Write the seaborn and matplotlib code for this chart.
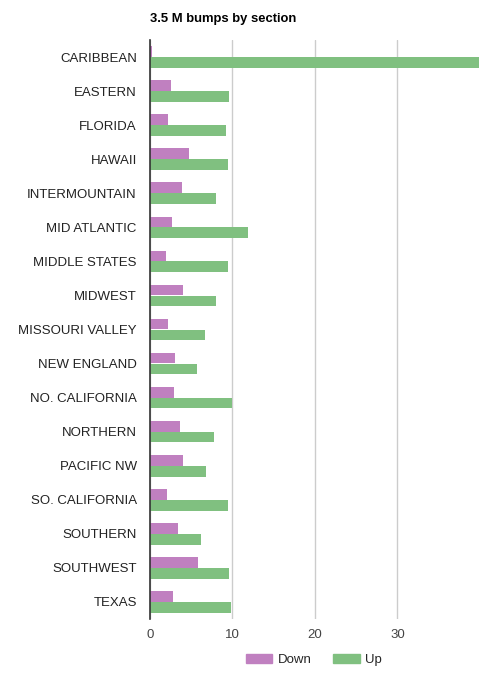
import matplotlib
matplotlib.use("Agg")
import matplotlib.pyplot as plt
import seaborn as sns
import pandas as pd

sections = ["CARIBBEAN", "EASTERN", "FLORIDA", "HAWAII", "INTERMOUNTAIN", "MID ATLANTIC",
            "MIDDLE STATES", "MIDWEST", "MISSOURI VALLEY", "NEW ENGLAND", "NO. CALIFORNIA",
            "NORTHERN", "PACIFIC NW", "SO. CALIFORNIA", "SOUTHERN", "SOUTHWEST", "TEXAS"]
down = [0.29, 2.49, 2.24, 4.69, 3.84, 2.61, 2.0, 3.96, 2.24, 2.98, 2.86, 3.59, 3.96, 2.12, 3.35, 5.8, 2.73]
up = [39.9, 9.59, 9.22, 9.47, 8.0, 11.92, 9.47, 8.0, 6.65, 5.67, 10.0, 7.76, 6.78, 9.47, 6.16, 9.59, 9.84]
series = ["Down", "Up"]
colors = ["#c080c0", "#80c080"]

df = pd.DataFrame({
    "section": sections * 2,
    "value": down + up,
    "series": [series[0]] * len(sections) + [series[1]] * len(sections),
})

sns.set_theme(style="white")
plt.rcParams["font.family"] = ["Liberation Sans", "DejaVu Sans"]

fig = plt.figure(figsize=(4.8, 6.8), dpi=100)
ax = fig.add_axes([150 / 480, 1 - 619 / 680, 329 / 480, 579 / 680])

sns.barplot(data=df, y="section", x="value", hue="series", palette=colors,
            order=sections, hue_order=series, width=0.64, gap=0.02,
            saturation=1, linewidth=0, ax=ax, orient="h", legend=True)

ax.set_xlim(0, 39.9)
ax.set_xticks([0, 10, 20, 30])
ax.set_xlabel("")
ax.set_ylabel("")
ax.xaxis.grid(True, color="#cccccc", linewidth=1)
ax.set_axisbelow(True)
for s in ["top", "right", "bottom"]:
    ax.spines[s].set_visible(False)
ax.spines["left"].set_color("#333333")
ax.spines["left"].set_linewidth(1.2)
ax.tick_params(axis="y", length=0, pad=9.5, labelsize=9.5, labelcolor="#222222")
ax.tick_params(axis="x", length=0, pad=7, labelsize=9.5, labelcolor="#444444")

fig.text(150 / 480, 1 - 19 / 680, "3.5 M bumps by section", fontsize=9.4,
         fontweight="bold", va="center", ha="left", color="#000000")

ax.legend_.remove()
handles = [plt.Rectangle((0, 0), 1, 1, color=c) for c in colors]
fig.legend(handles, series, loc="center", bbox_to_anchor=(314 / 480, 1 - 660 / 680),
           ncol=2, frameon=False, fontsize=9.5, handlelength=2.0, handleheight=0.75,
           columnspacing=1.6, handletextpad=0.45)

fig.savefig("out.png", dpi=100)
